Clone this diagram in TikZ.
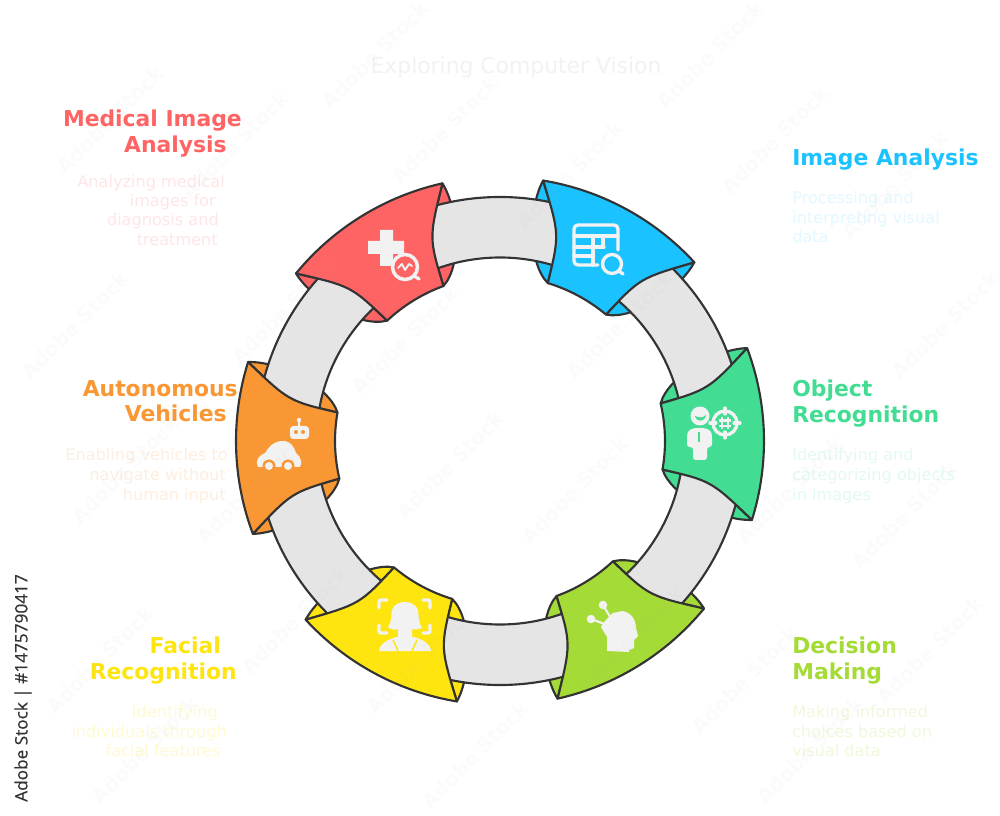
\documentclass[tikz,border=0pt]{standalone}
\usepackage{fontspec}
\setmainfont{DejaVu Sans}
\newfontfamily\sidefont[FakeBold=0.5]{Open Sans}
\definecolor{cRed}{HTML}{FF6464}
\definecolor{cBlue}{HTML}{1AC3FF}
\definecolor{cGreen}{HTML}{42DD93}
\definecolor{cLime}{HTML}{A5DB36}
\definecolor{cYellow}{HTML}{FFE50F}
\definecolor{cOrange}{HTML}{F99734}
\definecolor{cLine}{HTML}{333333}
\definecolor{cBand}{HTML}{E5E5E5}
\definecolor{cIcon}{HTML}{F2F2F2}
\tikzset{
  head/.style={inner sep=0pt,font=\fontsize{16.4}{16.4}\selectfont\bfseries},
  desc/.style={inner sep=0pt,font=\fontsize{12.1}{12.1}\selectfont},
  outl/.style={draw=cLine,line width=1.6pt,line join=round},
  iconline/.style={draw=cIcon,line width=2.5pt,line cap=round,line join=round,fill=none},
  iconfill/.style={fill=cIcon,draw=none},
  wm/.style={inner sep=0pt,rotate=45,text=gray!60,text opacity=.045,font=\fontsize{15}{15}\selectfont\bfseries},
}
\newcommand{\segback}[2]{%
  \begin{scope}[shift={(500,441)},y=0.75pt,rotate=-#1]
    \filldraw[outl,fill=#2] (109:264) .. controls (111.5:235) and (109.5:180) .. (101.55:165) .. controls (102.3:215) .. cycle;
    \filldraw[outl,fill=#2] (71:264) .. controls (68.5:235) and (70.5:180) .. (78.45:165) .. controls (77.7:215) .. cycle;
  \end{scope}}
\newcommand{\segfront}[2]{%
  \begin{scope}[shift={(500,441)},y=0.75pt,rotate=-#1]
    \filldraw[outl,fill=#2] (109:264) arc[start angle=109,end angle=71,radius=264]
      .. controls (77.7:215) .. (78.45:165) arc[start angle=78.45,end angle=101.55,radius=165]
      .. controls (102.3:215) .. cycle;
  \end{scope}}
\begin{document}
\begin{tikzpicture}[x=0.75pt,y=-0.75pt]
\useasboundingbox (0,0) rectangle (1000,816);
\fill[white] (0,0) rectangle (1000,816);
% back leaves
\segback{28.4}{cBlue}
\segback{88.4}{cGreen}
\segback{148.4}{cLime}
\segback{208.4}{cYellow}
\segback{268.4}{cOrange}
\segback{328.4}{cRed}
% band
\filldraw[outl,fill=cBand,even odd rule] (500,441) circle[radius=244] (500,441) circle[radius=183.5];
% front faces
\segfront{28.4}{cBlue}
\segfront{88.4}{cGreen}
\segfront{148.4}{cLime}
\segfront{208.4}{cYellow}
\segfront{268.4}{cOrange}
\segfront{328.4}{cRed}
% icon: table and lens
\draw[iconline,rounded corners=3pt] (618,250) -- (618,225) -- (574,225) -- (574,265) -- (598,265);
\draw[iconline] (574,236) -- (618,236) (574,247) -- (604,247) (574,256) -- (593,256) (593,236) -- (593,265) (603,236) -- (603,246);
\draw[iconline] (612,264) circle[radius=9.5] (619,271) -- (623,274);
% icon: cross and lens
\fill[iconfill] (380,230) -- (393,230) -- (393,241) -- (404,241) -- (404,254) -- (393,254) -- (393,266) -- (380,266) -- (380,254) -- (368,254) -- (368,241) -- (380,241) -- cycle;
\filldraw[fill=cRed,draw=cIcon,line width=2.6pt] (405,267) circle[radius=12.5];
\draw[iconline] (414,276) -- (419,279);
\draw[draw=cIcon,line width=1.4pt,line cap=round,line join=round] (398,268) -- (402,264) -- (405,270) -- (409,264) -- (412,266);
% icon: person and target
\fill[iconfill] (700,416) circle[radius=9.5];
\fill[cGreen] (695,416) .. controls (699,418) and (703,418) .. (706,415) .. controls (705,422) and (697,423) .. cycle;
\fill[iconfill,rounded corners=2pt] (687,447) -- (687,436) .. controls (688,430) and (693,428) .. (699,428) .. controls (706,428) and (711,430) .. (712,436) -- (712,447) -- (707,447) -- (707,460) -- (693,460) -- (693,447) -- cycle;
\draw[cGreen,line width=1.4pt] (699,432) -- (699,442);
\draw[iconline] (725,423) circle[radius=12];
\draw[iconline] (725,408) -- (725,414) (725,432) -- (725,438) (710,423) -- (716,423) (734,423) -- (740,423);
\draw[draw=cIcon,line width=1.8pt] (722,417) -- (722,429) (728,417) -- (728,429) (719,420.5) -- (731,420.5) (719,426) -- (731,426);
% icon: head with pins
\fill[iconfill] (607,651) -- (607,637) -- (601,627) .. controls (604,621) and (609,617) .. (613,613) -- (622,611) .. controls (631,612) and (636,620) .. (636,628) -- (638,636) -- (634,640) -- (634,648) -- (629,650) -- (629,652) -- cycle;
\fill[iconfill] (603,605) circle[radius=4.3] (591,619) circle[radius=4.3];
\draw[draw=cIcon,line width=1.6pt] (603,605) -- (612,620) (591,619) -- (610,626);
% icon: face scan
\draw[iconline,rounded corners=1.5pt] (379,608) -- (379,600) -- (387,600) (423,600) -- (430,600) -- (430,608) (379,625) -- (379,633) -- (387,633) (430,625) -- (430,633) -- (423,633);
\fill[iconfill] (388,627) .. controls (392,622) and (391,615) .. (392,610) .. controls (394,604) and (400,602) .. (405,602) .. controls (411,602) and (416,605) .. (418,610) .. controls (419,616) and (418,622) .. (422,628) .. controls (416,630) and (414,630) .. (412,629) -- (412,637) -- (398,637) -- (398,629) .. controls (395,630) and (391,630) .. cycle;
\fill[iconfill] (379,651) .. controls (380,643) and (388,640) .. (396,637) -- (414,637) .. controls (423,640) and (430,643) .. (431,651) -- cycle;
\draw[cYellow,line width=1.1pt] (398,651) -- (393,640) (412,651) -- (417,640);
% icon: car and robot
\fill[iconfill] (258,467) .. controls (255,461) and (258,456) .. (265,453) .. controls (270,445) and (275,441) .. (283,441) .. controls (291,441) and (294,447) .. (296,453) .. controls (300,456) and (303,462) .. (300,467) -- cycle;
\fill[cOrange] (269,466) circle[radius=6.5] (288,466) circle[radius=6.5];
\fill[iconfill] (269,466) circle[radius=4] (288,466) circle[radius=4];
\fill[iconfill,rounded corners=2.5pt] (290,426) rectangle (309,439);
\fill[iconfill] (298,420) rectangle (300,426);
\fill[iconfill] (299,420) circle[radius=2.2];
\fill[cOrange] (296,432) circle[radius=2] (303,432) circle[radius=2];
% title
\node[inner sep=0pt,text=black!5,font=\fontsize{16.4}{16.4}\selectfont] (title) at (516,67) {Exploring Computer Vision};
% headings
\node[head,text=cRed,anchor=base east] (h1a) at (242,127) {Medical Image};
\node[head,text=cRed,anchor=base east] (h1b) at (227,153) {Analysis};
\node[head,text=cBlue,anchor=base west] (h2) at (792,166) {Image Analysis};
\node[head,text=cGreen,anchor=base west] (h3a) at (792,397) {Object};
\node[head,text=cGreen,anchor=base west] (h3b) at (792,423) {Recognition};
\node[head,text=cLime,anchor=base west] (h4a) at (792,653) {Decision};
\node[head,text=cLime,anchor=base west] (h4b) at (792,679) {Making};
\node[head,text=cYellow,anchor=base east] (h5a) at (221,653) {Facial};
\node[head,text=cYellow,anchor=base east] (h5b) at (237,679) {Recognition};
\node[head,text=cOrange,anchor=base east] (h6a) at (238,397) {Autonomous};
\node[head,text=cOrange,anchor=base east] (h6b) at (227,422) {Vehicles};
% descriptions
\node[desc,text=cRed!16,anchor=base east] (d1a) at (225,188) {Analyzing medical};
\node[desc,text=cRed!16,anchor=base east] (d1b) at (216,207) {images for};
\node[desc,text=cRed!16,anchor=base east] (d1c) at (219,226) {diagnosis and};
\node[desc,text=cRed!16,anchor=base east] (d1d) at (218,246) {treatment};
\node[desc,text=cBlue!12,anchor=base west] (d2a) at (792,204) {Processing and};
\node[desc,text=cBlue!12,anchor=base west] (d2b) at (792,224) {interpreting visual};
\node[desc,text=cBlue!12,anchor=base west] (d2c) at (792,243) {data};
\node[desc,text=cGreen!15,anchor=base west] (d3a) at (792,461) {Identifying and};
\node[desc,text=cGreen!15,anchor=base west] (d3b) at (792,480) {categorizing objects};
\node[desc,text=cGreen!15,anchor=base west] (d3c) at (792,500) {in images};
\node[desc,text=cLime!18,anchor=base west] (d4a) at (792,717) {Making informed};
\node[desc,text=cLime!18,anchor=base west] (d4b) at (792,737) {choices based on};
\node[desc,text=cLime!18,anchor=base west] (d4c) at (792,756) {visual data};
\node[desc,text=cYellow!18,anchor=base east] (d5a) at (218,717) {Identifying};
\node[desc,text=cYellow!18,anchor=base east] (d5b) at (227,737) {individuals through};
\node[desc,text=cYellow!18,anchor=base east] (d5c) at (221,756) {facial features};
\node[desc,text=cOrange!16,anchor=base east] (d6a) at (228,461) {Enabling vehicles to};
\node[desc,text=cOrange!16,anchor=base east] (d6b) at (226,480) {navigate without};
\node[desc,text=cOrange!16,anchor=base east] (d6c) at (226,500) {human input};
% stock marks
\foreach \wx/\wy in {375/55,710/55,
  110/120,235/145,445/130,570/175,775/140,895/185,
  75/325,285/310,405/340,620/325,945/325,
  125/470,250/490,450/465,575/490,790/490,905/515,
  100/660,295/620,420/660,630/640,745/680,930/650,
  145/750,475/755,810/750}
  \node[wm] at (\wx,\wy) {Adobe Stock};
\node[inner sep=0pt,rotate=90,text=cLine,font=\sidefont\fontsize{12.9}{12.9}\selectfont] (side) at (23,688) {Adobe Stock | \#1475790417};
\end{tikzpicture}
\end{document}
